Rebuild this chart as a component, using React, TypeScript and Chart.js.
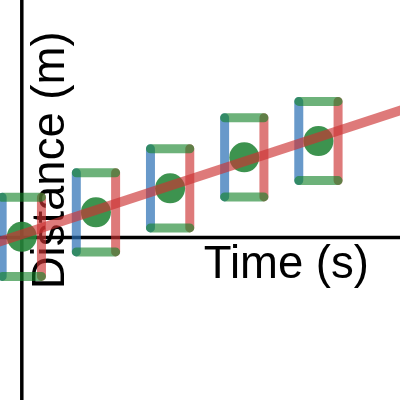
import React, { useEffect, useRef } from "react";
import { Chart, registerables } from "chart.js";

Chart.register(...registerables);

// ---- data ----
const timeValues = [0, 1, 2, 3, 4];
const distanceValues = [0.03, 1.05, 2.05, 3.34, 4.02];
const timeError = 0.265;
const distanceError = 1.65;
const fitTime = [-0.5, 5.5];
const fitDistance = [-0.37, 5.7];
const xLabel = "Time (s)";
const yLabel = "Distance (m)";
const xRange = [-0.294, 5.1];
const yRange = [-6.771, 9.896];

type P = { x: number; y: number | null };

function verticalSides(side: number): P[] {
  const pts: P[] = [];
  timeValues.forEach((t, i) => {
    const x = t + side * timeError;
    pts.push({ x, y: distanceValues[i] - distanceError });
    pts.push({ x, y: distanceValues[i] + distanceError });
    pts.push({ x, y: null });
  });
  return pts;
}

function horizontalSides(): P[] {
  const pts: P[] = [];
  timeValues.forEach((t, i) => {
    [-1, 1].forEach((s) => {
      const y = distanceValues[i] + s * distanceError;
      pts.push({ x: t - timeError, y });
      pts.push({ x: t + timeError, y });
      pts.push({ x: t + timeError, y: null });
    });
  });
  return pts;
}

const axesPlugin = {
  id: "centerAxes",
  beforeDatasetsDraw(chart: any) {
    const { ctx } = chart;
    const xs = chart.scales.x;
    const ys = chart.scales.y;
    const x0 = xs.getPixelForValue(0);
    const y0 = ys.getPixelForValue(0);
    ctx.save();
    ctx.strokeStyle = "#000";
    ctx.lineWidth = 3.5;
    ctx.beginPath();
    ctx.moveTo(x0, 0);
    ctx.lineTo(x0, chart.height);
    ctx.stroke();
    ctx.beginPath();
    ctx.moveTo(0, y0);
    ctx.lineTo(chart.width, y0);
    ctx.stroke();

    ctx.fillStyle = "#000";
    ctx.font = '45.5px "Liberation Sans", Arial, sans-serif';
    ctx.textAlign = "left";
    ctx.textBaseline = "alphabetic";
    ctx.fillText(xLabel, x0 + 182, y0 + 40.5);
    ctx.translate(x0 + 42, y0 + 51.8);
    ctx.rotate(-Math.PI / 2);
    ctx.fillText(yLabel, 0, 0);
    ctx.restore();
  },
};

export default function App() {
  const ref = useRef<HTMLCanvasElement | null>(null);

  useEffect(() => {
    if (!ref.current) return;
    const lineCommon = {
      showLine: true,
      pointRadius: 0,
      pointHoverRadius: 0,
      borderWidth: 9,
      borderCapStyle: "round" as const,
      borderJoinStyle: "round" as const,
      spanGaps: false,
      fill: false,
    };
    const chart = new Chart(ref.current, {
      type: "scatter",
      data: {
        datasets: [
          {
            label: "fit",
            data: fitTime.map((t, i) => ({ x: t, y: fitDistance[i] })),
            showLine: true,
            pointRadius: 0,
            borderWidth: 9.5,
            borderColor: "rgba(205,50,50,0.65)",
            fill: false,
          },
          {
            label: "points",
            data: timeValues.map((t, i) => ({ x: t, y: distanceValues[i] })),
            pointRadius: 15,
            pointBorderWidth: 0,
            backgroundColor: "rgba(40,135,60,0.9)",
            borderColor: "rgba(40,135,60,0)",
          },
          {
            label: "top/bottom",
            data: horizontalSides() as any,
            ...lineCommon,
            borderColor: "rgba(20,130,40,0.62)",
          },
          {
            label: "right",
            data: verticalSides(1) as any,
            ...lineCommon,
            borderColor: "rgba(205,50,50,0.65)",
          },
          {
            label: "left",
            data: verticalSides(-1) as any,
            ...lineCommon,
            borderColor: "rgba(40,110,180,0.7)",
          },
        ],
      },
      options: {
        animation: false,
        responsive: false,
        devicePixelRatio: 1,
        layout: { padding: 0, autoPadding: false },
        plugins: {
          legend: { display: false },
          tooltip: { enabled: false },
        },
        events: [],
        scales: {
          x: { type: "linear", min: xRange[0], max: xRange[1], display: false },
          y: { type: "linear", min: yRange[0], max: yRange[1], display: false },
        },
      },
      plugins: [axesPlugin],
    });
    return () => chart.destroy();
  }, []);

  return (
    <div style={{ position: "absolute", left: 0, top: 0, width: 400, height: 400, background: "#fff" }}>
      <canvas ref={ref} width={400} height={400} style={{ display: "block" }} />
    </div>
  );
}
